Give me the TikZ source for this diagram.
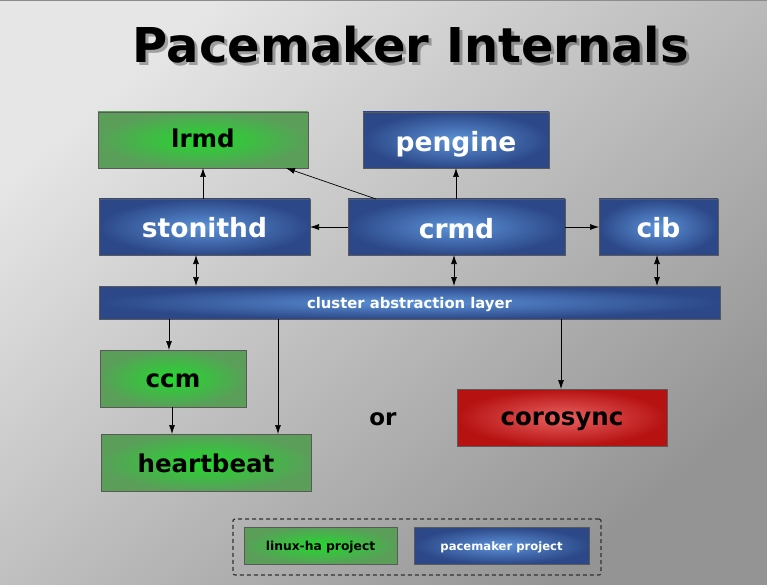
\documentclass[tikz,border=0pt]{standalone}
\usepackage{fontspec}
\setmainfont{DejaVu Sans}
\usetikzlibrary{arrows.meta,shadings}

\definecolor{bglight}{RGB}{230,230,230}
\definecolor{bgdark}{RGB}{148,148,148}
\definecolor{pmkin}{RGB}{92,146,216}
\definecolor{pmkout}{RGB}{44,72,136}
\definecolor{lhain}{RGB}{36,216,46}
\definecolor{lhaout}{RGB}{90,158,90}
\definecolor{corin}{RGB}{234,96,96}
\definecolor{corout}{RGB}{182,18,18}

\begin{document}
\begin{tikzpicture}[x=1pt,y=-1pt,
    box/.style={draw=black!65,line width=0.8pt,inner sep=0pt,outer sep=0pt,text depth=0pt},
    pmk/.style={box,inner color=pmkin,outer color=pmkout,text=white,text height=21pt,
      font=\bfseries\fontsize{26.5}{30}\selectfont},
    lha/.style={box,inner color=lhain,outer color=lhaout,text height=18pt,
      font=\bfseries\fontsize{24.5}{28}\selectfont},
    coro/.style={box,inner color=corin,outer color=corout,text height=16pt,
      font=\bfseries\fontsize{24.5}{28}\selectfont},
    tip/.tip={Latex[length=9pt,width=6pt]},
    link/.style={-tip,line width=0.7pt},
    both/.style={tip-tip,line width=0.7pt}]
  \useasboundingbox (0,0) rectangle (767,585);
  \shade[top color=bglight,bottom color=bgdark,shading angle=40] (0,0) rectangle (767,585);
  \draw[black!45,line width=1.5pt] (0,0.5) -- (767,0.5);

  % title with a soft shadow
  \node[anchor=base,text=black,opacity=0.3,font=\bfseries\fontsize{48}{52}\selectfont] at (414,66) {Pacemaker Internals};
  \node[anchor=base,font=\bfseries\fontsize{48}{52}\selectfont] (title) at (411,63) {Pacemaker Internals};

  % daemons
  \node[lha,minimum width=210pt,minimum height=56pt,text height=16pt] (lrmd) at (203,140) {lrmd};
  \node[pmk,minimum width=186pt,minimum height=56pt,text height=24pt] (pengine) at (456,140) {pengine};
  \node[pmk,minimum width=211pt,minimum height=56pt] (stonithd) at (204.5,227) {stonithd};
  \node[pmk,minimum width=217pt,minimum height=56pt,text height=22pt] (crmd) at (456.5,227) {crmd};
  \node[pmk,minimum width=119pt,minimum height=56pt] (cib) at (658.5,227) {cib};
  \node[pmk,minimum width=621pt,minimum height=33pt,text height=11pt,
    font=\bfseries\fontsize{14.8}{17}\selectfont] (layer) at (409.5,302.5) {cluster abstraction layer};

  % messaging layers
  \node[lha,minimum width=146pt,minimum height=57pt,text height=17pt] (ccm) at (173,378.5) {ccm};
  \node[lha,minimum width=210pt,minimum height=57pt,text height=19pt] (heartbeat) at (206,462.5) {heartbeat};
  \node[coro,minimum width=210pt,minimum height=57pt,text height=15pt] (corosync) at (562,417.5) {corosync};
  \node[anchor=base,font=\bfseries\fontsize{23}{26}\selectfont] (or) at (383,425) {or};

  % legend
  \node[draw=black!80,line width=1.2pt,dash pattern=on 4pt off 3pt,rounded corners=2pt,
    minimum width=368pt,minimum height=56pt] (legend) at (417,547) {};
  \node[lha,minimum width=153pt,minimum height=37pt,text height=10pt,
    font=\bfseries\fontsize{12.3}{14}\selectfont] (lhakey) at (320.5,545.5) {linux-ha project};
  \node[pmk,minimum width=175pt,minimum height=37pt,text height=10pt,
    font=\bfseries\fontsize{11.6}{14}\selectfont] (pmkkey) at (501.5,545.5) {pacemaker project};

  % connectors
  \draw[link] (stonithd.north -| lrmd.south) -- (lrmd.south);
  \draw[link] ([xshift=28pt]crmd.north west) -- ([xshift=-22pt]lrmd.south east);
  \draw[link] (crmd.north -| pengine.south) -- (pengine.south);
  \draw[link] (crmd.west) -- (stonithd.east);
  \draw[link] (crmd.east) -- (cib.west);
  \draw[both] ([xshift=-8.5pt]stonithd.south) -- ([xshift=-8.5pt]stonithd.south |- layer.north);
  \draw[both] ([xshift=-2.5pt]crmd.south) -- ([xshift=-2.5pt]crmd.south |- layer.north);
  \draw[both] ([xshift=-1.5pt]cib.south) -- ([xshift=-1.5pt]cib.south |- layer.north);
  \draw[link] ([xshift=-4pt]ccm.north |- layer.south) -- ([xshift=-4pt]ccm.north);
  \draw[link] ([xshift=-1pt]ccm.south) -- ([xshift=-1pt]ccm.south |- heartbeat.north);
  \draw[link] ([xshift=72pt]heartbeat.north |- layer.south) -- ([xshift=72pt]heartbeat.north);
  \draw[link] ([xshift=-1pt]corosync.north |- layer.south) -- ([xshift=-1pt]corosync.north);
\end{tikzpicture}
\end{document}
